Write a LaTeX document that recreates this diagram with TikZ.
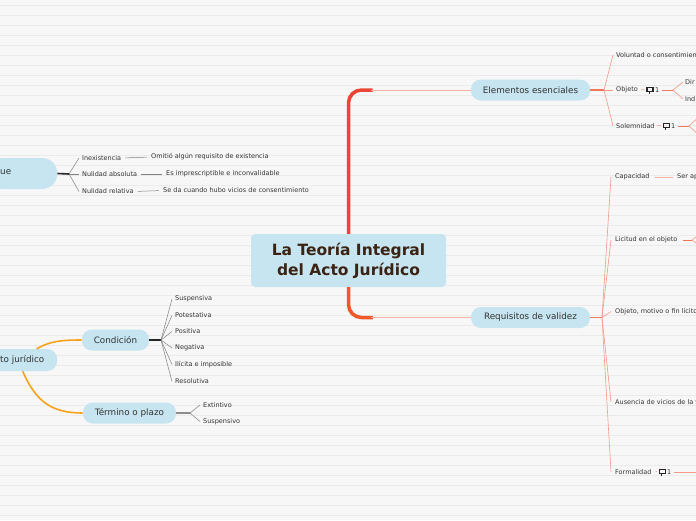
\documentclass[tikz,border=0pt]{standalone}
\usepackage{fontspec}
\setmainfont{DejaVu Sans}
\usetikzlibrary{positioning, calc}

\definecolor{paper}{HTML}{F7F7F7}
\definecolor{ruling}{HTML}{EBEBEB}
\definecolor{bubble}{HTML}{C6E5F0}
\definecolor{ink}{HTML}{333333}
\definecolor{titleink}{HTML}{3B2314}
\definecolor{trunkred}{HTML}{EC4538}
\definecolor{trunkorange}{HTML}{F05A2A}
\definecolor{pinkline}{HTML}{F8B0A4}
\definecolor{salmon}{HTML}{F49A86}
\definecolor{salmondark}{HTML}{F2765A}
\definecolor{amber}{HTML}{F7A21B}

\tikzset{
  root/.style={rectangle, rounded corners=4pt, fill=bubble, text=titleink, align=center,
    minimum width=195pt, minimum height=53pt, font=\fontsize{15.5}{20}\selectfont\bfseries},
  topic/.style={rectangle, rounded corners=10pt, fill=bubble, text=ink,
    minimum height=21pt, inner xsep=12pt, font=\fontsize{8.8}{10}\selectfont},
  leaf/.style={anchor=west, inner sep=0pt, text=ink, font=\fontsize{6.5}{8}\selectfont},
  notebox/.style={rectangle, draw=black!85, line width=1.1pt, minimum width=6pt, minimum height=3.5pt, inner sep=0pt},
  notetail/.style={draw=black!85, line width=1pt},
  twig/.style={draw=salmon, line width=0.6pt},
  stem/.style={draw=salmondark, line width=1.8pt},
  greytwig/.style={draw=black!50, line width=0.5pt},
  darkstem/.style={draw=black!85, line width=1.6pt},
  bough/.style={draw=amber, line width=1.6pt}
}

\begin{document}
\begin{tikzpicture}[x=1pt, y=-1pt]  % one unit is one pixel of the page
    % Paper
    \useasboundingbox (0,0) rectangle (696,520);
    \clip (0,0) rectangle (696,520);
    \fill[paper] (0,0) rectangle (696,520);
    \foreach \y in {5,15,...,515}
        \draw[ruling, line width=0.6pt] (0,\y) -- (696,\y);  % ruled lines

    % Nodes
    \node[root] (main) at (348.5,260.5) {La Teoría Integral\\del Acto Jurídico};  % central topic
    \node[topic, minimum width=119pt] (elem) at (530.5,90) {Elementos esenciales};
    \node[topic, minimum width=119pt] (valid) at (530.5,317.5) {Requisitos de validez};
    \node[topic, anchor=west, text width=45pt, align=left, minimum height=31pt, rounded corners=15pt] (causes) at (-12,173.5) {\raisebox{3pt}{ue}};
    \node[topic, anchor=west, text width=45pt, align=left, minimum height=22pt] (modal) at (-12,360) {to jurídico};
    \node[topic] (cond) at (115.5,340) {Condición};
    \node[topic] (term) at (129.5,413) {Término o plazo};

    % Elementos esenciales
    \node[leaf] (volu) at (616,55) {Voluntad o consentimien};
    \node[leaf] (obj) at (616,90) {Objeto};
    \node[notebox] (objNote) at (650,89.5) {};
    \node[leaf] (objCount) at (655,90) {1};
    \node[leaf] (dir) at (685,82) {Dir};
    \node[leaf] (ind) at (685,99) {Ind};
    \node[leaf] (sol) at (616,126) {Solemnidad};
    \node[notebox] (solNote) at (666.5,125.5) {};
    \node[leaf] (solCount) at (671,126) {1};
    \coordinate (eFork) at (604,90);
    \coordinate (oFork) at (673,90);
    \coordinate (sFork) at (689,126);
    \coordinate (solUp) at (700,116);
    \coordinate (solDown) at (700,136);

    % Requisitos de validez
    \node[leaf] (cap) at (615,177) {Capacidad};
    \node[leaf] (serap) at (677,177) {Ser ap};
    \node[leaf] (lic) at (615,240) {Licitud en el objeto};
    \node[leaf] (fin) at (615,311.5) {Objeto, motivo o fin lícito};
    \node[leaf] (vicios) at (615,402) {Ausencia de vicios de la v};
    \node[leaf] (form) at (615,472) {Formalidad};
    \node[notebox] (formNote) at (662.5,471.5) {};
    \node[leaf] (formCount) at (667,472) {1};
    \coordinate (vFork) at (602,317.5);
    \coordinate (lFork) at (692,240);
    \coordinate (licUp) at (700,234);
    \coordinate (licDown) at (700,246);
    \coordinate (formOut) at (700,472);

    % Ineficacia
    \node[leaf] (inex) at (82,158) {Inexistencia};
    \node[leaf] (absol) at (82,174) {Nulidad absoluta};
    \node[leaf] (relat) at (82,191.5) {Nulidad relativa};
    \node[leaf] (inexWhy) at (151,157) {Omitió algún requisito de existencia};
    \node[leaf] (absolWhy) at (166,174) {Es imprescriptible e inconvalidable};
    \node[leaf] (relatWhy) at (163,190.5) {Se da cuando hubo vicios de consentimiento};
    \coordinate (nFork) at (69,174);

    % Modalidades
    \node[leaf] (susp) at (175,299) {Suspensiva};
    \node[leaf] (potes) at (175,315.5) {Potestativa};
    \node[leaf] (posi) at (175,331.5) {Positiva};
    \node[leaf] (nega) at (175,348) {Negativa};
    \node[leaf] (ilic) at (175,364.5) {Ilícita e imposible};
    \node[leaf] (resol) at (175,381.5) {Resolutiva};
    \node[leaf] (extin) at (203,405) {Extintivo};
    \node[leaf] (suspTerm) at (203,421.5) {Suspensivo};
    \coordinate (cFork) at (161,340);
    \coordinate (tFork) at (190,413);

    % Note tails
    \foreach \n in {objNote, solNote, formNote}
        \draw[notetail] ([xshift=-1pt]\n.south) -- ++(0,1.8);

    % Connections
    \draw[trunkred, line width=3.5pt, rounded corners=13pt] (main.north) |- ($(elem.west)+(-98,0)$);  % trunk up
    \draw[trunkorange, line width=3.5pt, rounded corners=13pt] (main.south) |- ($(valid.west)+(-98,0)$);  % trunk down
    \draw[pinkline, line width=1pt] ($(elem.west)+(-100,0)$) -- (elem.west);
    \draw[pinkline, line width=1pt] ($(valid.west)+(-100,0)$) -- (valid.west);

    \draw[stem] (elem.east) -- (eFork);
    \foreach \n in {volu, obj, sol}
        \draw[twig] (eFork) -- ([xshift=-3pt]\n.west);
    \draw[twig, shorten <=3pt, shorten >=2pt] (obj.east) -- (objNote.west);
    \draw[stem, line width=1pt] (objCount.east) ++(2,0) -- (oFork);
    \draw[twig] (oFork) -- ([xshift=-2pt]dir.west);
    \draw[twig] (oFork) -- ([xshift=-2pt]ind.west);
    \draw[twig, shorten <=2pt, shorten >=2pt] (sol.east) -- (solNote.west);
    \draw[stem, line width=1pt] (solCount.east) ++(2,0) -- (sFork);
    \draw[twig] (sFork) -- (solUp);
    \draw[twig] (sFork) -- (solDown);

    \draw[stem] (valid.east) -- (vFork);
    \foreach \n in {cap, lic, fin, vicios, form}
        \draw[twig] (vFork) -- ([xshift=-4pt]\n.west);
    \draw[pinkline, line width=1pt, shorten <=5pt, shorten >=4pt] (cap.east) -- (serap.west);
    \draw[stem, line width=1pt] ([xshift=5pt]lic.east) -- (lFork);
    \draw[twig] (lFork) -- (licUp);
    \draw[twig] (lFork) -- (licDown);
    \draw[twig, shorten <=4pt, shorten >=2pt] (form.east) -- (formNote.west);
    \draw[twig, line width=1pt] ([xshift=2pt]formCount.east) -- (formOut);

    \draw[darkstem] (causes.east) -- (nFork);
    \foreach \n in {inex, absol, relat}
        \draw[greytwig] (nFork) -- ([xshift=-3pt]\n.west);
    \draw[greytwig, shorten <=4pt, shorten >=4pt] (inex.east) -- (inexWhy.west);
    \draw[greytwig, shorten <=4pt, shorten >=4pt] (absol.east) -- (absolWhy.west);
    \draw[greytwig, shorten <=4pt, shorten >=4pt] (relat.east) -- (relatWhy.west);

    \draw[bough] ([xshift=14pt]modal.north) .. controls (50,341) and (62,340) .. (cond.west);
    \draw[bough] (modal.south) .. controls (36,402) and (52,413) .. (term.west);
    \draw[darkstem] (cond.east) -- (cFork);
    \foreach \n in {susp, potes, posi, nega, ilic, resol}
        \draw[greytwig] (cFork) -- ([xshift=-3pt]\n.west);
    \draw[darkstem, draw=black!45] (term.east) -- (tFork);
    \draw[greytwig] (tFork) -- ([xshift=-3pt]extin.west);
    \draw[greytwig] (tFork) -- ([xshift=-3pt]suspTerm.west);
\end{tikzpicture}
\end{document}
